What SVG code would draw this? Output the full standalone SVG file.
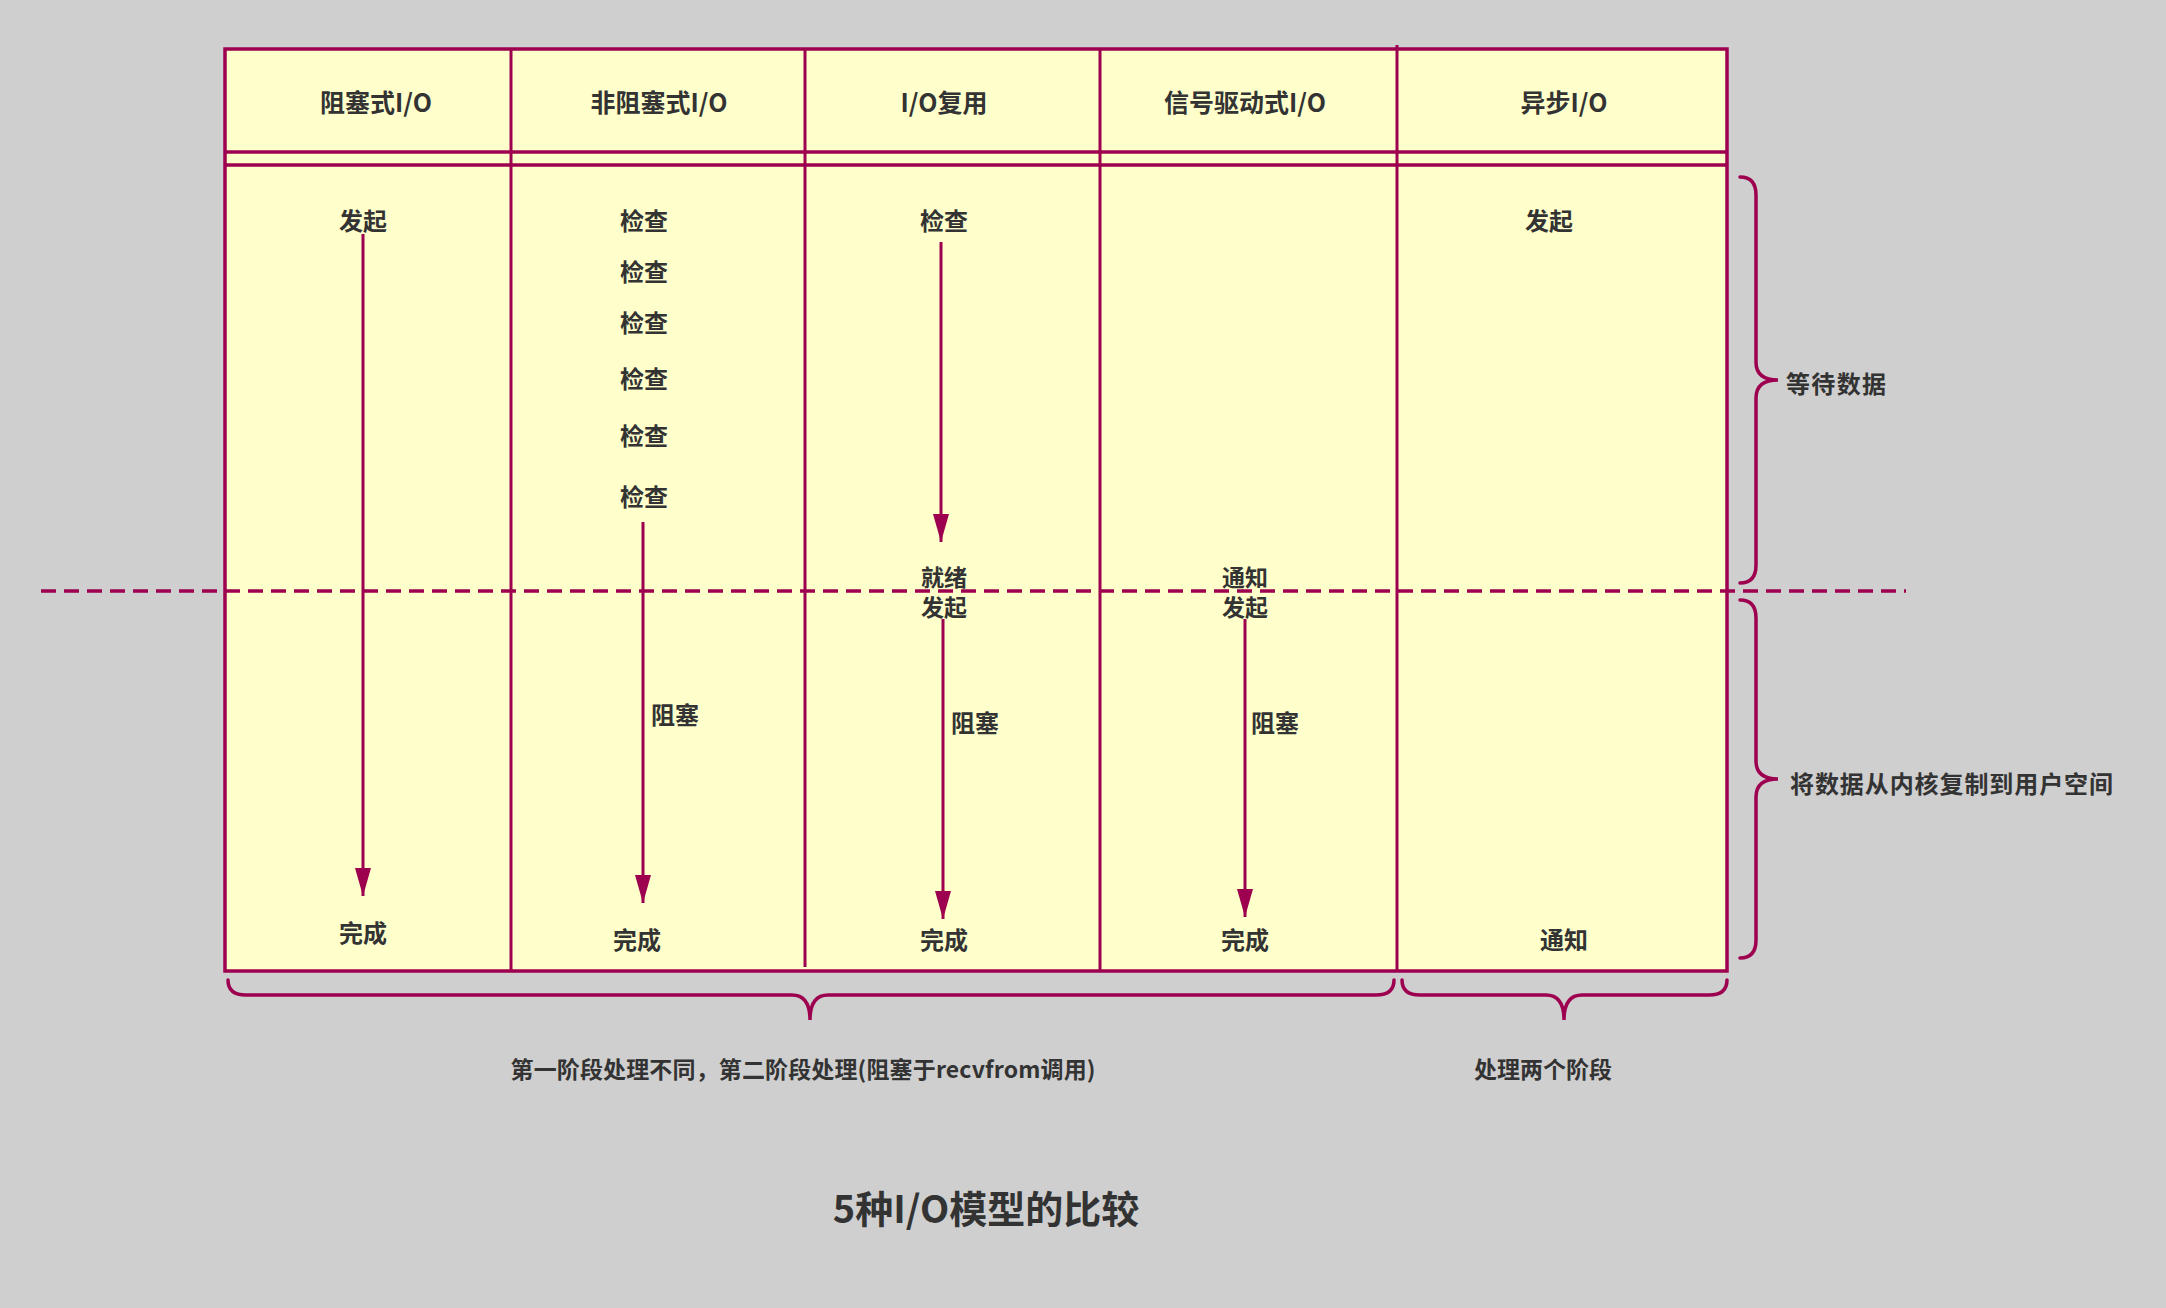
<svg xmlns="http://www.w3.org/2000/svg" width="2166" height="1308" viewBox="0 0 2166 1308">
<defs>
<marker id="ah" markerWidth="28" markerHeight="16" refX="28" refY="8" orient="auto" markerUnits="userSpaceOnUse" viewBox="0 0 28 16">
<path d="M0,0 L28,8 L0,16 Z" fill="#9E0050"/>
</marker>
<style>
.ln{stroke:#9E0050;stroke-width:3;fill:none}
.bd{stroke:#9E0050;stroke-width:3.5;fill:none}
.br{stroke:#9E0050;stroke-width:3.5;fill:none;stroke-linecap:round}
.ar{stroke:#9E0050;stroke-width:3;fill:none;marker-end:url(#ah)}
.t{font-family:"Noto Sans CJK SC","Noto Sans",sans-serif;font-weight:bold;fill:#333333;text-anchor:middle;dominant-baseline:central}
.h{font-size:25px}
.b{font-size:24px}
.c{font-size:23px}
.s{font-size:23px}
.tl{font-size:38px}
.l{text-anchor:start}
</style>
</defs>
<rect x="0" y="0" width="2166" height="1308" fill="#CFCFCF"/>
<g id="table">
<rect x="225" y="49" width="1502" height="922" fill="#FFFFCC"/>
<rect x="225" y="49" width="1502" height="922" class="bd"/>
<line x1="225" y1="152" x2="1727" y2="152" class="bd"/>
<line x1="225" y1="165" x2="1727" y2="165" class="bd"/>
<line x1="511" y1="49" x2="511" y2="971" class="ln"/>
<line x1="805" y1="49" x2="805" y2="967" class="ln"/>
<line x1="1100" y1="49" x2="1100" y2="971" class="ln"/>
<line x1="1397" y1="45" x2="1397" y2="971" class="ln"/>
</g>
<g id="headers">
<text class="t h" x="376" y="101">阻塞式I/O</text>
<text class="t h" x="659" y="101">非阻塞式I/O</text>
<text class="t h" x="944" y="101">I/O复用</text>
<text class="t h" x="1245" y="101">信号驱动式I/O</text>
<text class="t h" x="1564" y="101">异步I/O</text>
</g>
<g id="col-blocking">
<text class="t b" x="363" y="219">发起</text>
<text class="t b" x="363" y="931">完成</text>
</g>
<g id="col-nonblocking">
<text class="t b" x="644" y="219">检查</text>
<text class="t b" x="644" y="270">检查</text>
<text class="t b" x="644" y="321">检查</text>
<text class="t b" x="644" y="377">检查</text>
<text class="t b" x="644" y="434">检查</text>
<text class="t b" x="644" y="495">检查</text>
<text class="t b" x="675" y="713">阻塞</text>
<text class="t b" x="637" y="938">完成</text>
</g>
<g id="col-multiplex">
<text class="t b" x="944" y="219">检查</text>
<text class="t c" x="944" y="576">就绪</text>
<text class="t c" x="944" y="606">发起</text>
<text class="t b" x="975" y="721">阻塞</text>
<text class="t b" x="944" y="938">完成</text>
</g>
<g id="col-signal">
<text class="t c" x="1245" y="576">通知</text>
<text class="t c" x="1245" y="606">发起</text>
<text class="t b" x="1275" y="721">阻塞</text>
<text class="t b" x="1245" y="938">完成</text>
</g>
<g id="col-async">
<text class="t b" x="1549" y="219">发起</text>
<text class="t b" x="1564" y="938">通知</text>
</g>
<g id="connectors">
<line x1="363" y1="234" x2="363" y2="896" class="ar"/>
<line x1="643" y1="522" x2="643" y2="903" class="ar"/>
<line x1="941" y1="242" x2="941" y2="542" class="ar"/>
<line x1="943" y1="619" x2="943" y2="919" class="ar"/>
<line x1="1245" y1="619" x2="1245" y2="917" class="ar"/>
<line x1="41" y1="591" x2="1906" y2="591" stroke="#9E0050" stroke-width="3.5" stroke-dasharray="15 8"/>
</g>
<g id="braces">
<path class="br" d="M1740,177 Q1756,177 1756,195 L1756,362 Q1756,380 1778,380 Q1756,380 1756,398 L1756,565 Q1756,583 1740,583"/>
<path class="br" d="M1740,600 Q1756,600 1756,618 L1756,761 Q1756,779 1778,779 Q1756,779 1756,797 L1756,940 Q1756,958 1740,958"/>
<path class="br" d="M228,980 Q228,995 246,995 L792,995 Q810,995 810,1020 Q810,995 828,995 L1376,995 Q1394,995 1394,980"/>
<path class="br" d="M1402,980 Q1402,995 1420,995 L1546,995 Q1564,995 1564,1020 Q1564,995 1582,995 L1709,995 Q1727,995 1727,980"/>
</g>
<g id="labels">
<text class="t b l" x="1786" y="382" textLength="100">等待数据</text>
<text class="t b l" x="1790" y="782" textLength="323">将数据从内核复制到用户空间</text>
<text class="t s" x="803" y="1068" textLength="585">第一阶段处理不同，第二阶段处理(阻塞于recvfrom调用)</text>
<text class="t s" x="1543" y="1068" textLength="138">处理两个阶段</text>
<text class="t tl" x="986" y="1206">5种I/O模型的比较</text>
</g>
</svg>
